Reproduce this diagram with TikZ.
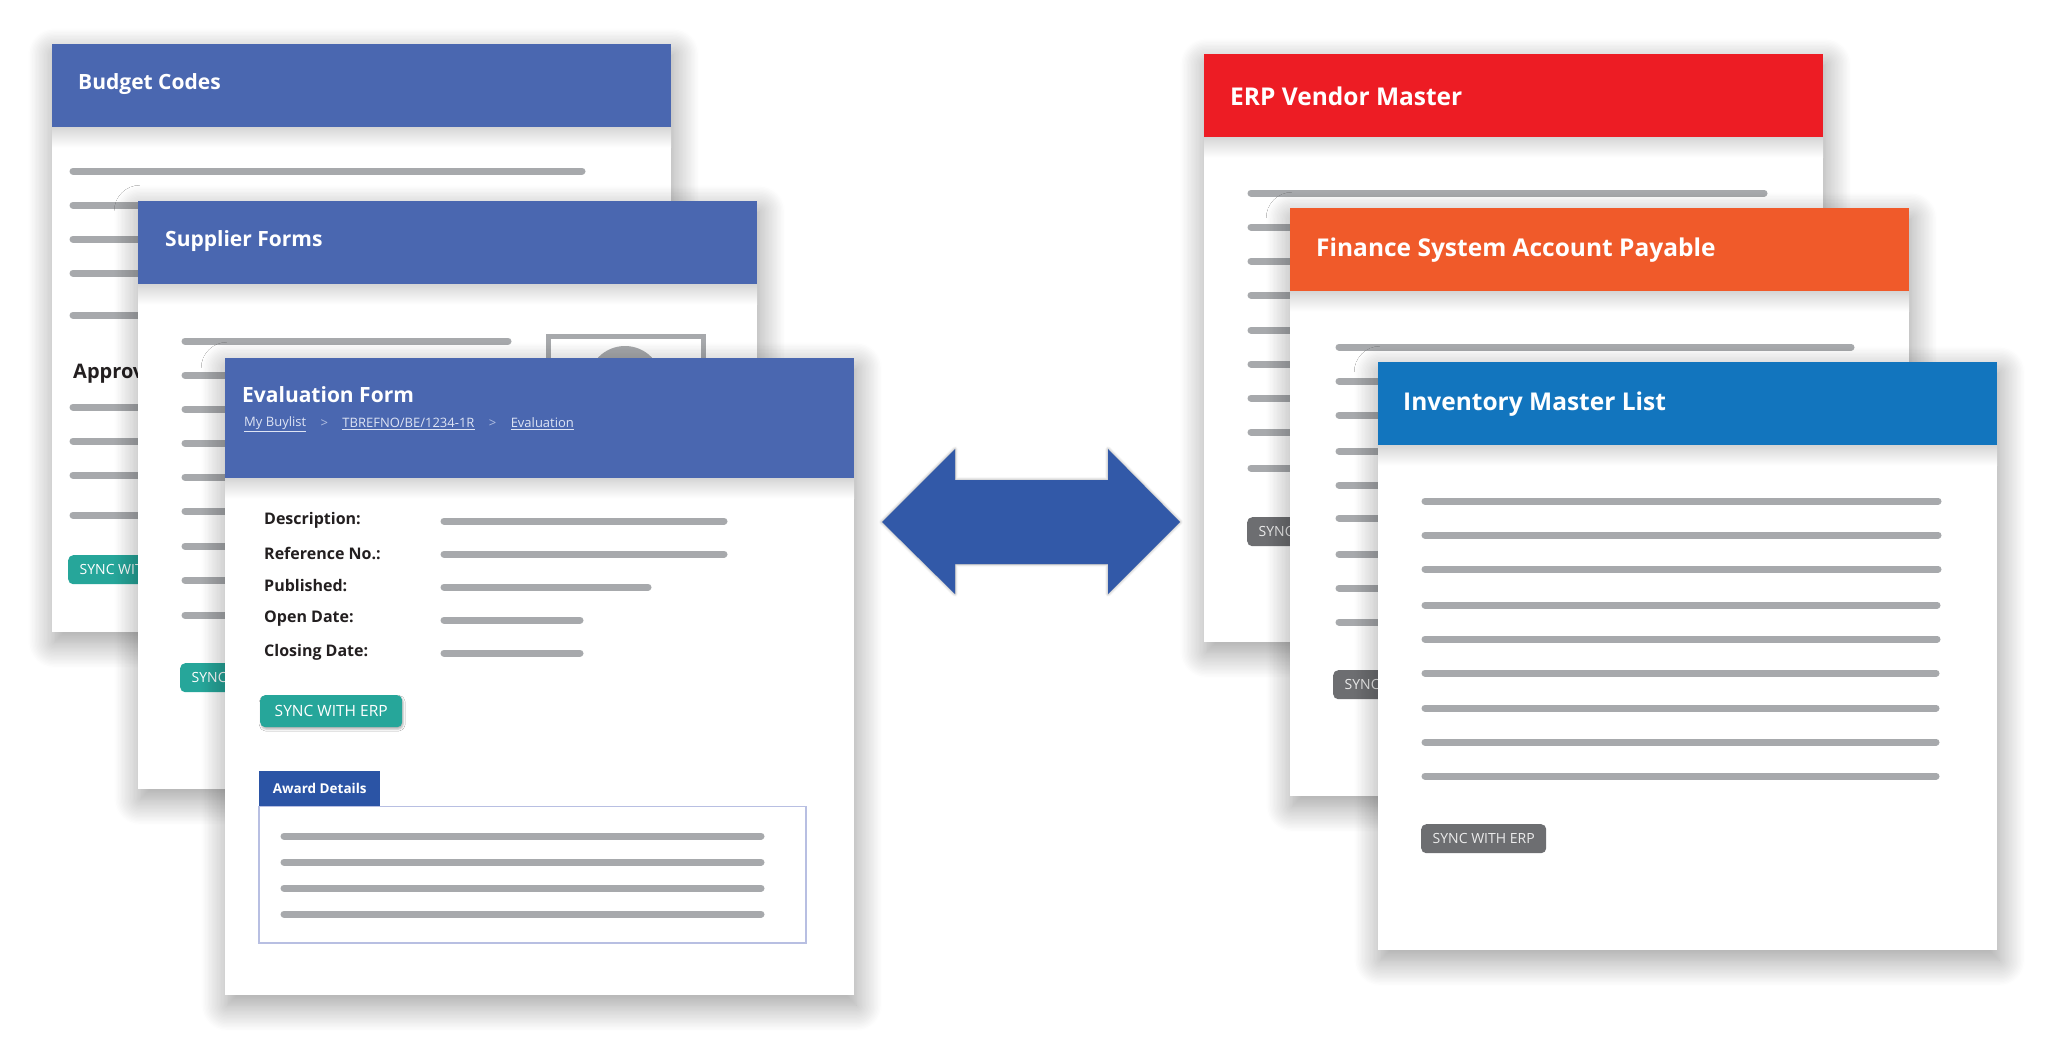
\documentclass[tikz,border=0pt]{standalone}
\usepackage{fontspec}
\setmainfont{Open Sans}
\usepackage{color}
\definecolor{hdrblue}{RGB}{74,103,176}
\definecolor{tabblue}{RGB}{43,84,165}
\definecolor{arrowblue}{RGB}{50,89,168}
\definecolor{erpred}{RGB}{237,28,36}
\definecolor{finorange}{RGB}{240,90,42}
\definecolor{invblue}{RGB}{18,117,190}
\definecolor{syncteal}{RGB}{38,166,154}
\definecolor{syncgray}{RGB}{109,110,113}
\definecolor{bargray}{RGB}{167,169,172}
\definecolor{crumbtext}{RGB}{222,228,244}
\definecolor{boxline}{RGB}{184,191,226}
\definecolor{labeltext}{RGB}{35,31,32}
\usepackage{tikz}
\usetikzlibrary{positioning,shadows.blur}
\newcommand{\widthcard}{619pt}
\newcommand{\heightcard}{588pt}
\newcommand{\heighthdr}{83pt}
\tikzset{
    card/.style={anchor=north west, fill=white, inner sep=0pt, minimum width=\widthcard, minimum height=\heightcard,
        blur shadow={shadow xshift=2pt, shadow yshift=-10pt, shadow blur radius=26pt, shadow blur steps=20, shadow opacity=40}},
    hdr/.style={anchor=north west, inner sep=0pt, minimum width=\widthcard, minimum height=\heighthdr},
    hdrshade/.style={top color=black!16, bottom color=white},
    title/.style={anchor=west, text=white, inner sep=0pt, font=\fontsize{21}{25}\selectfont\bfseries},
    bigtitle/.style={title, font=\fontsize{24.5}{29}\selectfont\bfseries},
    section/.style={anchor=west, text=labeltext, inner sep=0pt, font=\fontsize{20}{24}\selectfont\bfseries},
    bar/.style={draw=bargray, line width=7pt, line cap=round},
    btn/.style={anchor=north west, rounded corners=5pt, inner sep=0pt, minimum width=125pt, minimum height=29pt,
        font=\fontsize{14}{17}\selectfont},
    syncbtn/.style={btn, fill=syncteal, text=white},
    graybtn/.style={btn, fill=syncgray, text=black!8},
    crumb/.style={anchor=west, inner sep=0pt, text=crumbtext, font=\fontsize{13}{16}\selectfont},
    sep/.style={crumb, text=crumbtext!70!hdrblue},
    field/.style={anchor=west, inner sep=0pt, text=labeltext, font=\fontsize{16}{19}\selectfont\bfseries},
    tab/.style={anchor=north west, fill=tabblue, text=white, inner sep=0pt, minimum width=121pt, minimum height=35pt,
        font=\fontsize{13.5}{16}\selectfont\bfseries}
}

\begin{document}
\begin{tikzpicture}[x=1pt, y=-1pt]
    \useasboundingbox (0,0) rectangle (2048,1041);

    % left stack
    \node[card] (budget) at (52,44) {};
    \node[hdr, fill=hdrblue] (budgetH) at (budget.north west) {};
    \shade[hdrshade] (budgetH.south west) rectangle ++(619,20);
    \node[title] (budgetT) at (78,84) {Budget Codes};
    \draw[bar] (73,171) -- (582,171);
    \foreach \y in {205,239,273,315,407,441,475,515}
        \draw[bar] (73,\y) -- (420,\y);
    \node[section] (budgetS) at (73,373) {Approval};
    \node[syncbtn] (budgetB) at (68,555) {SYNC WITH ERP};

    \node[card] (supplier) at (138,201) {};
    \node[hdr, fill=hdrblue] (supplierH) at (supplier.north west) {};
    \shade[hdrshade] (supplierH.south west) rectangle ++(619,20);
    \node[title] (supplierT) at (165,241) {Supplier Forms};
    \draw[bar] (185,341) -- (508,341);
    \draw[bargray, line width=5pt] (548,336) rectangle (703,440);
    \fill[bargray] (625,383) circle (37);
    \foreach \y in {375,409,443,477,511,546,580,615}
        \draw[bar] (185,\y) -- (500,\y);
    \node[syncbtn] (supplierB) at (180,663) {SYNC WITH ERP};

    \node[card, minimum width=629pt, minimum height=637pt] (evalform) at (225,358) {};
    \node[hdr, fill=hdrblue, minimum width=629pt, minimum height=120pt] (evalformH) at (evalform.north west) {};
    \shade[hdrshade] (evalformH.south west) rectangle ++(629,20);
    \node[title] (evalformT) at (242,395) {Evaluation Form};
    \node[crumb] (crumbA) at (244,424) {\underline{My Buylist}};
    \node[sep, right=14pt of crumbA] (sepA) {>};
    \node[crumb, right=14pt of sepA] (crumbB) {\underline{TBREFNO/BE/1234-1R}};
    \node[sep, right=14pt of crumbB] (sepB) {>};
    \node[crumb, right=14pt of sepB] (crumbC) {\underline{Evaluation}};

    \node[field] (fDesc) at (264,520) {Description:};
    \node[field] (fRef) at (264,553) {Reference No.:};
    \node[field] (fPub) at (264,586) {Published:};
    \node[field] (fOpen) at (264,619) {Open Date:};
    \node[field] (fClose) at (264,652) {Closing Date:};
    \draw[bar] (444,521) -- (724,521);
    \draw[bar] (444,554) -- (724,554);
    \draw[bar] (444,587) -- (648,587);
    \draw[bar] (444,620) -- (580,620);
    \draw[bar] (444,653) -- (580,653);
    \node[syncbtn, minimum width=142pt, minimum height=32pt, font=\fontsize{15.5}{18}\selectfont,
        blur shadow={shadow xshift=1pt, shadow yshift=-2pt, shadow blur radius=2pt, shadow opacity=30}] (evalformB) at (260,695) {SYNC WITH ERP};
    \node[tab] (awardT) at (259,771) {Award Details};
    \draw[boxline, line width=1.5pt] (awardT.south west) rectangle (806,943);
    \foreach \y in {836,862,888,914}
        \draw[bar] (284,\y) -- (761,\y);

    % sync arrow
    \coordinate (syncmid) at (1031,522);
    \fill[arrowblue, blur shadow={shadow xshift=0pt, shadow yshift=0pt, shadow blur radius=3pt, shadow opacity=40}]
        (syncmid) ++(-149,0) -- ++(73,-73) -- ++(0,31) -- ++(153,0) -- ++(0,-31) -- ++(72,73)
        -- ++(-72,72) -- ++(0,-30) -- ++(-153,0) -- ++(0,30) -- cycle;

    % right stack
    \node[card] (erp) at (1204,54) {};
    \node[hdr, fill=erpred] (erpH) at (erp.north west) {};
    \shade[hdrshade] (erpH.south west) rectangle ++(619,20);
    \node[bigtitle] (erpT) at (1230,96) {ERP Vendor Master};
    \draw[bar] (1251,193) -- (1764,193);
    \foreach \y in {227,261,295,330,364,398,432,468}
        \draw[bar] (1251,\y) -- (1700,\y);
    \node[graybtn] (erpB) at (1247,517) {SYNC WITH ERP};

    \node[card] (finance) at (1290,208) {};
    \node[hdr, fill=finorange] (financeH) at (finance.north west) {};
    \shade[hdrshade] (financeH.south west) rectangle ++(619,20);
    \node[bigtitle] (financeT) at (1316,250) {Finance System Account Payable};
    \draw[bar] (1339,347) -- (1851,347);
    \foreach \y in {381,415,451,485,518,554,588,622}
        \draw[bar] (1339,\y) -- (1800,\y);
    \node[graybtn] (financeB) at (1333,670) {SYNC WITH ERP};

    \node[card] (inventory) at (1378,362) {};
    \node[hdr, fill=invblue] (inventoryH) at (inventory.north west) {};
    \shade[hdrshade] (inventoryH.south west) rectangle ++(619,20);
    \node[bigtitle] (inventoryT) at (1403,404) {Inventory Master List};
    \foreach \y/\e in {501/1938,535/1938,569/1938,605/1937,639/1937,673/1936,708/1936,742/1936,776/1936}
        \draw[bar] (1425,\y) -- (\e,\y);
    \node[graybtn] (inventoryB) at (1421,824) {SYNC WITH ERP};
\end{tikzpicture}
\end{document}
